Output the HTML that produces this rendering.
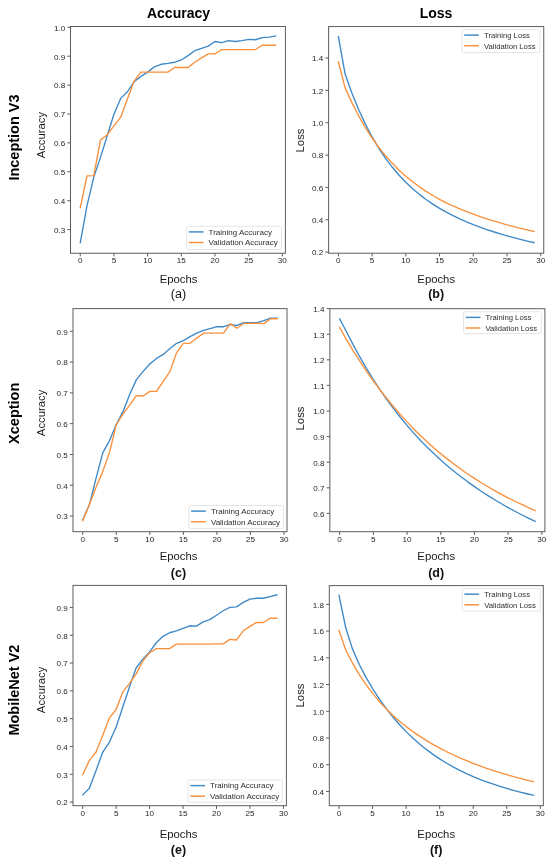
<!DOCTYPE html>
<html><head><meta charset="utf-8"><title>Training curves</title>
<style>
html,body{margin:0;padding:0;background:#fff;}
body{width:550px;height:866px;overflow:hidden;}
svg{display:block;filter:blur(0.3px);}
text{font-family:"Liberation Sans",sans-serif;}
.tk{font-size:8.1px;fill:#262626;}
.lg{font-size:8px;fill:#2e2e2e;}
.lg2{font-size:7.7px;fill:#2e2e2e;}
.xl{font-size:11.3px;fill:#1a1a1a;}
.yl{font-size:11.3px;fill:#1a1a1a;}
.pr{font-size:12.5px;fill:#111;}
.pb{font-size:12.5px;fill:#111;font-weight:bold;}
.ti{font-size:14px;fill:#000;font-weight:bold;}
.rl{font-size:14.5px;fill:#000;font-weight:bold;}
</style></head>
<body>
<svg width="550" height="866" viewBox="0 0 550 866">
<rect width="550" height="866" fill="#fff"/>
<polyline points="80.27,242.6 87.01,205.61 93.74,177.29 100.48,157.35 107.22,135.68 113.95,114.29 120.69,98.39 127.43,91.75 134.17,81.63 140.9,76.43 147.64,72.1 154.38,66.89 161.11,64.29 167.85,63.43 174.59,62.27 181.32,59.96 188.06,55.62 194.8,50.71 201.54,48.4 208.27,46.08 215.01,41.46 221.75,42.62 228.48,40.59 235.22,41.46 241.96,40.59 248.69,39.44 255.43,39.73 262.17,37.7 268.91,37.13 275.64,35.97" fill="none" stroke="#3f88c6" stroke-width="1.35" stroke-linejoin="round" stroke-linecap="square"/>
<polyline points="80.27,207.64 87.01,175.85 93.74,175.56 100.48,140.01 107.22,134.81 113.95,125.85 120.69,117.18 127.43,98.97 134.17,81.05 140.9,72.1 147.64,72.1 154.38,72.1 161.11,72.1 167.85,72.1 174.59,67.47 181.32,67.47 188.06,67.47 194.8,62.27 201.54,57.93 208.27,53.89 215.01,53.89 221.75,49.55 228.48,49.55 235.22,49.55 241.96,49.55 248.69,49.55 255.43,49.55 262.17,45.22 268.91,45.22 275.64,45.22" fill="none" stroke="#f9903c" stroke-width="1.35" stroke-linejoin="round" stroke-linecap="square"/>
<rect x="70.5" y="26.5" width="214.9" height="226.75" fill="none" stroke="#5c5c5c" stroke-width="1"/>
<line x1="67.3" y1="229.6" x2="70.5" y2="229.6" stroke="#5c5c5c" stroke-width="1"/>
<text x="65.2" y="232.9" class="tk" text-anchor="end">0.3</text>
<line x1="67.3" y1="200.7" x2="70.5" y2="200.7" stroke="#5c5c5c" stroke-width="1"/>
<text x="65.2" y="204" class="tk" text-anchor="end">0.4</text>
<line x1="67.3" y1="171.8" x2="70.5" y2="171.8" stroke="#5c5c5c" stroke-width="1"/>
<text x="65.2" y="175.1" class="tk" text-anchor="end">0.5</text>
<line x1="67.3" y1="142.9" x2="70.5" y2="142.9" stroke="#5c5c5c" stroke-width="1"/>
<text x="65.2" y="146.2" class="tk" text-anchor="end">0.6</text>
<line x1="67.3" y1="114" x2="70.5" y2="114" stroke="#5c5c5c" stroke-width="1"/>
<text x="65.2" y="117.3" class="tk" text-anchor="end">0.7</text>
<line x1="67.3" y1="85.1" x2="70.5" y2="85.1" stroke="#5c5c5c" stroke-width="1"/>
<text x="65.2" y="88.4" class="tk" text-anchor="end">0.8</text>
<line x1="67.3" y1="56.2" x2="70.5" y2="56.2" stroke="#5c5c5c" stroke-width="1"/>
<text x="65.2" y="59.5" class="tk" text-anchor="end">0.9</text>
<line x1="67.3" y1="27.3" x2="70.5" y2="27.3" stroke="#5c5c5c" stroke-width="1"/>
<text x="65.2" y="30.6" class="tk" text-anchor="end">1.0</text>
<line x1="80.27" y1="253.25" x2="80.27" y2="256.45" stroke="#5c5c5c" stroke-width="1"/>
<text x="80.27" y="263.35" class="tk" text-anchor="middle">0</text>
<line x1="113.95" y1="253.25" x2="113.95" y2="256.45" stroke="#5c5c5c" stroke-width="1"/>
<text x="113.95" y="263.35" class="tk" text-anchor="middle">5</text>
<line x1="147.64" y1="253.25" x2="147.64" y2="256.45" stroke="#5c5c5c" stroke-width="1"/>
<text x="147.64" y="263.35" class="tk" text-anchor="middle">10</text>
<line x1="181.32" y1="253.25" x2="181.32" y2="256.45" stroke="#5c5c5c" stroke-width="1"/>
<text x="181.32" y="263.35" class="tk" text-anchor="middle">15</text>
<line x1="215.01" y1="253.25" x2="215.01" y2="256.45" stroke="#5c5c5c" stroke-width="1"/>
<text x="215.01" y="263.35" class="tk" text-anchor="middle">20</text>
<line x1="248.69" y1="253.25" x2="248.69" y2="256.45" stroke="#5c5c5c" stroke-width="1"/>
<text x="248.69" y="263.35" class="tk" text-anchor="middle">25</text>
<line x1="282.38" y1="253.25" x2="282.38" y2="256.45" stroke="#5c5c5c" stroke-width="1"/>
<text x="282.38" y="263.35" class="tk" text-anchor="middle">30</text>
<rect x="186.6" y="226.3" width="94.9" height="23.2" rx="1.5" fill="#fff" fill-opacity="0.85" stroke="#e2e2e2" stroke-width="0.9"/>
<line x1="188.8" y1="231.9" x2="203.5" y2="231.9" stroke="#3f88c6" stroke-width="1.45"/>
<text x="208.6" y="234.7" class="lg">Training Accuracy</text>
<line x1="188.8" y1="242.5" x2="203.5" y2="242.5" stroke="#f9903c" stroke-width="1.45"/>
<text x="208.6" y="245.3" class="lg">Validation Accuracy</text>
<text x="178.5" y="282.5" class="xl" text-anchor="middle">Epochs</text>
<text x="178.5" y="298" class="pr" text-anchor="middle">(a)</text>
<text transform="translate(45,135.1) rotate(-90)" class="yl" text-anchor="middle">Accuracy</text>
<polyline points="338.38,36.46 345.12,74.02 351.87,92.91 358.62,109.5 365.36,124.1 372.11,136.95 378.85,148.31 385.6,158.36 392.34,167.29 399.08,175.23 405.83,182.31 412.57,188.65 419.32,194.35 426.06,199.48 432.81,204.13 439.56,208.34 446.3,212.18 453.05,215.69 459.79,218.91 466.53,221.87 473.28,224.62 480.02,227.17 486.77,229.54 493.51,231.76 500.26,233.84 507,235.8 513.75,237.64 520.5,239.39 527.24,241.05 533.99,242.62" fill="none" stroke="#3f88c6" stroke-width="1.35" stroke-linejoin="round" stroke-linecap="square"/>
<polyline points="338.38,61.86 345.12,87.89 351.87,102.64 358.62,115.8 365.36,127.53 372.11,138.01 378.85,147.4 385.6,155.8 392.34,163.35 399.08,170.15 405.83,176.27 412.57,181.81 419.32,186.82 426.06,191.37 432.81,195.52 439.56,199.32 446.3,202.79 453.05,205.99 459.79,208.95 466.53,211.68 473.28,214.23 480.02,216.61 486.77,218.84 493.51,220.94 500.26,222.92 507,224.8 513.75,226.59 520.5,228.3 527.24,229.94 533.99,231.52" fill="none" stroke="#f9903c" stroke-width="1.35" stroke-linejoin="round" stroke-linecap="square"/>
<rect x="328.6" y="26.55" width="215.15" height="226.65" fill="none" stroke="#5c5c5c" stroke-width="1"/>
<line x1="325.4" y1="252.14" x2="328.6" y2="252.14" stroke="#5c5c5c" stroke-width="1"/>
<text x="323.3" y="255.44" class="tk" text-anchor="end">0.2</text>
<line x1="325.4" y1="219.78" x2="328.6" y2="219.78" stroke="#5c5c5c" stroke-width="1"/>
<text x="323.3" y="223.08" class="tk" text-anchor="end">0.4</text>
<line x1="325.4" y1="187.42" x2="328.6" y2="187.42" stroke="#5c5c5c" stroke-width="1"/>
<text x="323.3" y="190.72" class="tk" text-anchor="end">0.6</text>
<line x1="325.4" y1="155.06" x2="328.6" y2="155.06" stroke="#5c5c5c" stroke-width="1"/>
<text x="323.3" y="158.36" class="tk" text-anchor="end">0.8</text>
<line x1="325.4" y1="122.7" x2="328.6" y2="122.7" stroke="#5c5c5c" stroke-width="1"/>
<text x="323.3" y="126" class="tk" text-anchor="end">1.0</text>
<line x1="325.4" y1="90.34" x2="328.6" y2="90.34" stroke="#5c5c5c" stroke-width="1"/>
<text x="323.3" y="93.64" class="tk" text-anchor="end">1.2</text>
<line x1="325.4" y1="57.98" x2="328.6" y2="57.98" stroke="#5c5c5c" stroke-width="1"/>
<text x="323.3" y="61.28" class="tk" text-anchor="end">1.4</text>
<line x1="338.38" y1="253.2" x2="338.38" y2="256.4" stroke="#5c5c5c" stroke-width="1"/>
<text x="338.38" y="263.3" class="tk" text-anchor="middle">0</text>
<line x1="372.11" y1="253.2" x2="372.11" y2="256.4" stroke="#5c5c5c" stroke-width="1"/>
<text x="372.11" y="263.3" class="tk" text-anchor="middle">5</text>
<line x1="405.83" y1="253.2" x2="405.83" y2="256.4" stroke="#5c5c5c" stroke-width="1"/>
<text x="405.83" y="263.3" class="tk" text-anchor="middle">10</text>
<line x1="439.56" y1="253.2" x2="439.56" y2="256.4" stroke="#5c5c5c" stroke-width="1"/>
<text x="439.56" y="263.3" class="tk" text-anchor="middle">15</text>
<line x1="473.28" y1="253.2" x2="473.28" y2="256.4" stroke="#5c5c5c" stroke-width="1"/>
<text x="473.28" y="263.3" class="tk" text-anchor="middle">20</text>
<line x1="507" y1="253.2" x2="507" y2="256.4" stroke="#5c5c5c" stroke-width="1"/>
<text x="507" y="263.3" class="tk" text-anchor="middle">25</text>
<line x1="540.73" y1="253.2" x2="540.73" y2="256.4" stroke="#5c5c5c" stroke-width="1"/>
<text x="540.73" y="263.3" class="tk" text-anchor="middle">30</text>
<rect x="462" y="29.5" width="78" height="23.1" rx="1.5" fill="#fff" fill-opacity="0.85" stroke="#e2e2e2" stroke-width="0.9"/>
<line x1="464.2" y1="35.1" x2="478.9" y2="35.1" stroke="#3f88c6" stroke-width="1.45"/>
<text x="484" y="37.9" class="lg2">Training Loss</text>
<line x1="464.2" y1="45.7" x2="478.9" y2="45.7" stroke="#f9903c" stroke-width="1.45"/>
<text x="484" y="48.5" class="lg2">Validation Loss</text>
<text x="436.2" y="282.5" class="xl" text-anchor="middle">Epochs</text>
<text x="436.2" y="298" class="pb" text-anchor="middle">(b)</text>
<text transform="translate(304.2,140.5) rotate(-90)" class="yl" text-anchor="middle">Loss</text>
<polyline points="82.73,519.69 89.44,504.61 96.15,477.83 102.85,452.59 109.56,440.59 116.27,424.58 122.98,411.66 129.69,394.42 136.39,379.64 143.1,371.33 149.81,363.95 156.52,358.41 163.23,354.41 169.93,348.56 176.64,343.32 183.35,340.55 190.06,336.55 196.77,333.17 203.47,330.4 210.18,328.55 216.89,326.7 223.6,326.7 230.31,324.55 237.01,325.47 243.72,322.7 250.43,322.7 257.14,322.7 263.85,320.55 270.55,318.08 277.26,318.08" fill="none" stroke="#3f88c6" stroke-width="1.35" stroke-linejoin="round" stroke-linecap="square"/>
<polyline points="82.73,520.62 89.44,504.61 96.15,487.07 102.85,471.37 109.56,452.29 116.27,424.58 122.98,414.12 129.69,405.19 136.39,395.65 143.1,395.96 149.81,391.34 156.52,391.34 163.23,381.49 169.93,371.64 176.64,352.56 183.35,343.32 190.06,343.32 196.77,338.09 203.47,333.17 210.18,333.17 216.89,333.17 223.6,333.17 230.31,323.62 237.01,328.24 243.72,323.32 250.43,323.32 257.14,323.32 263.85,323.62 270.55,318.7 277.26,318.7" fill="none" stroke="#f9903c" stroke-width="1.35" stroke-linejoin="round" stroke-linecap="square"/>
<rect x="73" y="308.6" width="214" height="223.1" fill="none" stroke="#5c5c5c" stroke-width="1"/>
<line x1="69.8" y1="516" x2="73" y2="516" stroke="#5c5c5c" stroke-width="1"/>
<text x="67.7" y="519.3" class="tk" text-anchor="end">0.3</text>
<line x1="69.8" y1="485.22" x2="73" y2="485.22" stroke="#5c5c5c" stroke-width="1"/>
<text x="67.7" y="488.52" class="tk" text-anchor="end">0.4</text>
<line x1="69.8" y1="454.44" x2="73" y2="454.44" stroke="#5c5c5c" stroke-width="1"/>
<text x="67.7" y="457.74" class="tk" text-anchor="end">0.5</text>
<line x1="69.8" y1="423.66" x2="73" y2="423.66" stroke="#5c5c5c" stroke-width="1"/>
<text x="67.7" y="426.96" class="tk" text-anchor="end">0.6</text>
<line x1="69.8" y1="392.88" x2="73" y2="392.88" stroke="#5c5c5c" stroke-width="1"/>
<text x="67.7" y="396.18" class="tk" text-anchor="end">0.7</text>
<line x1="69.8" y1="362.1" x2="73" y2="362.1" stroke="#5c5c5c" stroke-width="1"/>
<text x="67.7" y="365.4" class="tk" text-anchor="end">0.8</text>
<line x1="69.8" y1="331.32" x2="73" y2="331.32" stroke="#5c5c5c" stroke-width="1"/>
<text x="67.7" y="334.62" class="tk" text-anchor="end">0.9</text>
<line x1="82.73" y1="531.7" x2="82.73" y2="534.9" stroke="#5c5c5c" stroke-width="1"/>
<text x="82.73" y="541.8" class="tk" text-anchor="middle">0</text>
<line x1="116.27" y1="531.7" x2="116.27" y2="534.9" stroke="#5c5c5c" stroke-width="1"/>
<text x="116.27" y="541.8" class="tk" text-anchor="middle">5</text>
<line x1="149.81" y1="531.7" x2="149.81" y2="534.9" stroke="#5c5c5c" stroke-width="1"/>
<text x="149.81" y="541.8" class="tk" text-anchor="middle">10</text>
<line x1="183.35" y1="531.7" x2="183.35" y2="534.9" stroke="#5c5c5c" stroke-width="1"/>
<text x="183.35" y="541.8" class="tk" text-anchor="middle">15</text>
<line x1="216.89" y1="531.7" x2="216.89" y2="534.9" stroke="#5c5c5c" stroke-width="1"/>
<text x="216.89" y="541.8" class="tk" text-anchor="middle">20</text>
<line x1="250.43" y1="531.7" x2="250.43" y2="534.9" stroke="#5c5c5c" stroke-width="1"/>
<text x="250.43" y="541.8" class="tk" text-anchor="middle">25</text>
<line x1="283.97" y1="531.7" x2="283.97" y2="534.9" stroke="#5c5c5c" stroke-width="1"/>
<text x="283.97" y="541.8" class="tk" text-anchor="middle">30</text>
<rect x="188.9" y="505.5" width="94.5" height="23" rx="1.5" fill="#fff" fill-opacity="0.85" stroke="#e2e2e2" stroke-width="0.9"/>
<line x1="191.1" y1="511.1" x2="205.8" y2="511.1" stroke="#3f88c6" stroke-width="1.45"/>
<text x="210.9" y="513.9" class="lg">Training Accuracy</text>
<line x1="191.1" y1="521.7" x2="205.8" y2="521.7" stroke="#f9903c" stroke-width="1.45"/>
<text x="210.9" y="524.5" class="lg">Validation Accuracy</text>
<text x="178.5" y="560.3" class="xl" text-anchor="middle">Epochs</text>
<text x="178.5" y="576.6" class="pb" text-anchor="middle">(c)</text>
<text transform="translate(45,412.9) rotate(-90)" class="yl" text-anchor="middle">Accuracy</text>
<polyline points="339.62,318.84 346.36,331.49 353.1,344.62 359.84,356.96 366.58,368.58 373.32,379.51 380.07,389.81 386.81,399.51 393.55,408.66 400.29,417.29 407.03,425.44 413.77,433.14 420.51,440.43 427.25,447.32 433.99,453.85 440.74,460.04 447.48,465.91 454.22,471.48 460.96,476.79 467.7,481.83 474.44,486.63 481.18,491.21 487.92,495.58 494.66,499.76 501.4,503.76 508.14,507.58 514.89,511.25 521.63,514.77 528.37,518.15 535.11,521.41" fill="none" stroke="#3f88c6" stroke-width="1.35" stroke-linejoin="round" stroke-linecap="square"/>
<polyline points="339.62,327.59 346.36,339.39 353.1,350.59 359.84,361.21 366.58,371.29 373.32,380.85 380.07,389.93 386.81,398.55 393.55,406.74 400.29,414.51 407.03,421.89 413.77,428.91 420.51,435.58 427.25,441.91 433.99,447.94 440.74,453.67 447.48,459.12 454.22,464.31 460.96,469.25 467.7,473.95 474.44,478.43 481.18,482.7 487.92,486.77 494.66,490.65 501.4,494.35 508.14,497.88 514.89,501.26 521.63,504.48 528.37,507.55 535.11,510.49" fill="none" stroke="#f9903c" stroke-width="1.35" stroke-linejoin="round" stroke-linecap="square"/>
<rect x="329.85" y="308.7" width="215.05" height="223" fill="none" stroke="#5c5c5c" stroke-width="1"/>
<line x1="326.65" y1="513.4" x2="329.85" y2="513.4" stroke="#5c5c5c" stroke-width="1"/>
<text x="324.55" y="516.7" class="tk" text-anchor="end">0.6</text>
<line x1="326.65" y1="487.8" x2="329.85" y2="487.8" stroke="#5c5c5c" stroke-width="1"/>
<text x="324.55" y="491.1" class="tk" text-anchor="end">0.7</text>
<line x1="326.65" y1="462.2" x2="329.85" y2="462.2" stroke="#5c5c5c" stroke-width="1"/>
<text x="324.55" y="465.5" class="tk" text-anchor="end">0.8</text>
<line x1="326.65" y1="436.6" x2="329.85" y2="436.6" stroke="#5c5c5c" stroke-width="1"/>
<text x="324.55" y="439.9" class="tk" text-anchor="end">0.9</text>
<line x1="326.65" y1="411" x2="329.85" y2="411" stroke="#5c5c5c" stroke-width="1"/>
<text x="324.55" y="414.3" class="tk" text-anchor="end">1.0</text>
<line x1="326.65" y1="385.4" x2="329.85" y2="385.4" stroke="#5c5c5c" stroke-width="1"/>
<text x="324.55" y="388.7" class="tk" text-anchor="end">1.1</text>
<line x1="326.65" y1="359.8" x2="329.85" y2="359.8" stroke="#5c5c5c" stroke-width="1"/>
<text x="324.55" y="363.1" class="tk" text-anchor="end">1.2</text>
<line x1="326.65" y1="334.2" x2="329.85" y2="334.2" stroke="#5c5c5c" stroke-width="1"/>
<text x="324.55" y="337.5" class="tk" text-anchor="end">1.3</text>
<line x1="326.65" y1="308.6" x2="329.85" y2="308.6" stroke="#5c5c5c" stroke-width="1"/>
<text x="324.55" y="311.9" class="tk" text-anchor="end">1.4</text>
<line x1="339.62" y1="531.7" x2="339.62" y2="534.9" stroke="#5c5c5c" stroke-width="1"/>
<text x="339.62" y="541.8" class="tk" text-anchor="middle">0</text>
<line x1="373.32" y1="531.7" x2="373.32" y2="534.9" stroke="#5c5c5c" stroke-width="1"/>
<text x="373.32" y="541.8" class="tk" text-anchor="middle">5</text>
<line x1="407.03" y1="531.7" x2="407.03" y2="534.9" stroke="#5c5c5c" stroke-width="1"/>
<text x="407.03" y="541.8" class="tk" text-anchor="middle">10</text>
<line x1="440.74" y1="531.7" x2="440.74" y2="534.9" stroke="#5c5c5c" stroke-width="1"/>
<text x="440.74" y="541.8" class="tk" text-anchor="middle">15</text>
<line x1="474.44" y1="531.7" x2="474.44" y2="534.9" stroke="#5c5c5c" stroke-width="1"/>
<text x="474.44" y="541.8" class="tk" text-anchor="middle">20</text>
<line x1="508.14" y1="531.7" x2="508.14" y2="534.9" stroke="#5c5c5c" stroke-width="1"/>
<text x="508.14" y="541.8" class="tk" text-anchor="middle">25</text>
<line x1="541.85" y1="531.7" x2="541.85" y2="534.9" stroke="#5c5c5c" stroke-width="1"/>
<text x="541.85" y="541.8" class="tk" text-anchor="middle">30</text>
<rect x="463.5" y="311.8" width="77.8" height="21.8" rx="1.5" fill="#fff" fill-opacity="0.85" stroke="#e2e2e2" stroke-width="0.9"/>
<line x1="465.7" y1="317.4" x2="480.4" y2="317.4" stroke="#3f88c6" stroke-width="1.45"/>
<text x="485.5" y="320.2" class="lg2">Training Loss</text>
<line x1="465.7" y1="328" x2="480.4" y2="328" stroke="#f9903c" stroke-width="1.45"/>
<text x="485.5" y="330.8" class="lg2">Validation Loss</text>
<text x="436.2" y="560.3" class="xl" text-anchor="middle">Epochs</text>
<text x="436.2" y="576.6" class="pb" text-anchor="middle">(d)</text>
<text transform="translate(304.2,418.5) rotate(-90)" class="yl" text-anchor="middle">Loss</text>
<polyline points="82.7,794.87 89.39,788.2 96.08,770.4 102.77,752.04 109.46,742.03 116.15,727.01 122.84,706.99 129.53,686.69 136.22,667.78 142.91,659.16 149.6,651.93 156.29,642.75 162.98,636.35 169.67,632.74 176.36,630.79 183.05,628.29 189.74,625.78 196.43,626.06 203.12,621.89 209.81,619.67 216.5,615.22 223.19,610.77 229.88,607.43 236.57,606.87 243.26,602.42 249.95,599.09 256.64,598.25 263.33,598.25 270.02,596.58 276.71,594.92" fill="none" stroke="#3f88c6" stroke-width="1.35" stroke-linejoin="round" stroke-linecap="square"/>
<polyline points="82.7,774.57 89.39,760.38 96.08,752.04 102.77,735.36 109.46,717.84 116.15,709.49 122.84,691.69 129.53,683.35 136.22,673.9 142.91,660.83 149.6,652.76 156.29,648.59 162.98,648.59 169.67,648.59 176.36,644.14 183.05,644.14 189.74,644.14 196.43,644.14 203.12,644.14 209.81,644.14 216.5,643.86 223.19,643.86 229.88,639.41 236.57,639.97 243.26,630.79 249.95,626.34 256.64,622.45 263.33,622.45 270.02,618.28 276.71,618.28" fill="none" stroke="#f9903c" stroke-width="1.35" stroke-linejoin="round" stroke-linecap="square"/>
<rect x="73" y="585.4" width="213.4" height="220.3" fill="none" stroke="#5c5c5c" stroke-width="1"/>
<line x1="69.8" y1="802.1" x2="73" y2="802.1" stroke="#5c5c5c" stroke-width="1"/>
<text x="67.7" y="805.4" class="tk" text-anchor="end">0.2</text>
<line x1="69.8" y1="774.29" x2="73" y2="774.29" stroke="#5c5c5c" stroke-width="1"/>
<text x="67.7" y="777.59" class="tk" text-anchor="end">0.3</text>
<line x1="69.8" y1="746.48" x2="73" y2="746.48" stroke="#5c5c5c" stroke-width="1"/>
<text x="67.7" y="749.78" class="tk" text-anchor="end">0.4</text>
<line x1="69.8" y1="718.67" x2="73" y2="718.67" stroke="#5c5c5c" stroke-width="1"/>
<text x="67.7" y="721.97" class="tk" text-anchor="end">0.5</text>
<line x1="69.8" y1="690.86" x2="73" y2="690.86" stroke="#5c5c5c" stroke-width="1"/>
<text x="67.7" y="694.16" class="tk" text-anchor="end">0.6</text>
<line x1="69.8" y1="663.05" x2="73" y2="663.05" stroke="#5c5c5c" stroke-width="1"/>
<text x="67.7" y="666.35" class="tk" text-anchor="end">0.7</text>
<line x1="69.8" y1="635.24" x2="73" y2="635.24" stroke="#5c5c5c" stroke-width="1"/>
<text x="67.7" y="638.54" class="tk" text-anchor="end">0.8</text>
<line x1="69.8" y1="607.43" x2="73" y2="607.43" stroke="#5c5c5c" stroke-width="1"/>
<text x="67.7" y="610.73" class="tk" text-anchor="end">0.9</text>
<line x1="82.7" y1="805.7" x2="82.7" y2="808.9" stroke="#5c5c5c" stroke-width="1"/>
<text x="82.7" y="815.8" class="tk" text-anchor="middle">0</text>
<line x1="116.15" y1="805.7" x2="116.15" y2="808.9" stroke="#5c5c5c" stroke-width="1"/>
<text x="116.15" y="815.8" class="tk" text-anchor="middle">5</text>
<line x1="149.6" y1="805.7" x2="149.6" y2="808.9" stroke="#5c5c5c" stroke-width="1"/>
<text x="149.6" y="815.8" class="tk" text-anchor="middle">10</text>
<line x1="183.05" y1="805.7" x2="183.05" y2="808.9" stroke="#5c5c5c" stroke-width="1"/>
<text x="183.05" y="815.8" class="tk" text-anchor="middle">15</text>
<line x1="216.5" y1="805.7" x2="216.5" y2="808.9" stroke="#5c5c5c" stroke-width="1"/>
<text x="216.5" y="815.8" class="tk" text-anchor="middle">20</text>
<line x1="249.95" y1="805.7" x2="249.95" y2="808.9" stroke="#5c5c5c" stroke-width="1"/>
<text x="249.95" y="815.8" class="tk" text-anchor="middle">25</text>
<line x1="283.4" y1="805.7" x2="283.4" y2="808.9" stroke="#5c5c5c" stroke-width="1"/>
<text x="283.4" y="815.8" class="tk" text-anchor="middle">30</text>
<rect x="188.1" y="780" width="94.3" height="22.3" rx="1.5" fill="#fff" fill-opacity="0.85" stroke="#e2e2e2" stroke-width="0.9"/>
<line x1="190.3" y1="785.6" x2="205" y2="785.6" stroke="#3f88c6" stroke-width="1.45"/>
<text x="210.1" y="788.4" class="lg">Training Accuracy</text>
<line x1="190.3" y1="796.2" x2="205" y2="796.2" stroke="#f9903c" stroke-width="1.45"/>
<text x="210.1" y="799" class="lg">Validation Accuracy</text>
<text x="178.5" y="837.5" class="xl" text-anchor="middle">Epochs</text>
<text x="178.5" y="854.1" class="pb" text-anchor="middle">(e)</text>
<text transform="translate(45,689.9) rotate(-90)" class="yl" text-anchor="middle">Accuracy</text>
<polyline points="339.03,595.32 345.74,627.76 352.45,648.87 359.15,664.2 365.86,677.1 372.57,688.53 379.28,698.85 385.99,708.23 392.69,716.76 399.4,724.54 406.11,731.63 412.82,738.1 419.53,744 426.23,749.41 432.94,754.35 439.65,758.88 446.36,763.03 453.07,766.84 459.77,770.35 466.48,773.57 473.19,776.55 479.9,779.3 486.61,781.84 493.31,784.19 500.02,786.38 506.73,788.41 513.44,790.31 520.15,792.08 526.85,793.74 533.56,795.29" fill="none" stroke="#3f88c6" stroke-width="1.35" stroke-linejoin="round" stroke-linecap="square"/>
<polyline points="339.03,630.45 345.74,649.96 352.45,662.9 359.15,674.29 365.86,684.39 372.57,693.38 379.28,701.42 385.99,708.66 392.69,715.2 399.4,721.15 406.11,726.59 412.82,731.57 419.53,736.17 426.23,740.43 432.94,744.38 439.65,748.07 446.36,751.52 453.07,754.75 459.77,757.79 466.48,760.65 473.19,763.34 479.9,765.89 486.61,768.29 493.31,770.55 500.02,772.69 506.73,774.71 513.44,776.61 520.15,778.4 526.85,780.09 533.56,781.66" fill="none" stroke="#f9903c" stroke-width="1.35" stroke-linejoin="round" stroke-linecap="square"/>
<rect x="329.3" y="585.6" width="214" height="220.1" fill="none" stroke="#5c5c5c" stroke-width="1"/>
<line x1="326.1" y1="791.44" x2="329.3" y2="791.44" stroke="#5c5c5c" stroke-width="1"/>
<text x="324" y="794.74" class="tk" text-anchor="end">0.4</text>
<line x1="326.1" y1="764.72" x2="329.3" y2="764.72" stroke="#5c5c5c" stroke-width="1"/>
<text x="324" y="768.02" class="tk" text-anchor="end">0.6</text>
<line x1="326.1" y1="738" x2="329.3" y2="738" stroke="#5c5c5c" stroke-width="1"/>
<text x="324" y="741.3" class="tk" text-anchor="end">0.8</text>
<line x1="326.1" y1="711.28" x2="329.3" y2="711.28" stroke="#5c5c5c" stroke-width="1"/>
<text x="324" y="714.58" class="tk" text-anchor="end">1.0</text>
<line x1="326.1" y1="684.56" x2="329.3" y2="684.56" stroke="#5c5c5c" stroke-width="1"/>
<text x="324" y="687.86" class="tk" text-anchor="end">1.2</text>
<line x1="326.1" y1="657.84" x2="329.3" y2="657.84" stroke="#5c5c5c" stroke-width="1"/>
<text x="324" y="661.14" class="tk" text-anchor="end">1.4</text>
<line x1="326.1" y1="631.12" x2="329.3" y2="631.12" stroke="#5c5c5c" stroke-width="1"/>
<text x="324" y="634.42" class="tk" text-anchor="end">1.6</text>
<line x1="326.1" y1="604.4" x2="329.3" y2="604.4" stroke="#5c5c5c" stroke-width="1"/>
<text x="324" y="607.7" class="tk" text-anchor="end">1.8</text>
<line x1="339.03" y1="805.7" x2="339.03" y2="808.9" stroke="#5c5c5c" stroke-width="1"/>
<text x="339.03" y="815.8" class="tk" text-anchor="middle">0</text>
<line x1="372.57" y1="805.7" x2="372.57" y2="808.9" stroke="#5c5c5c" stroke-width="1"/>
<text x="372.57" y="815.8" class="tk" text-anchor="middle">5</text>
<line x1="406.11" y1="805.7" x2="406.11" y2="808.9" stroke="#5c5c5c" stroke-width="1"/>
<text x="406.11" y="815.8" class="tk" text-anchor="middle">10</text>
<line x1="439.65" y1="805.7" x2="439.65" y2="808.9" stroke="#5c5c5c" stroke-width="1"/>
<text x="439.65" y="815.8" class="tk" text-anchor="middle">15</text>
<line x1="473.19" y1="805.7" x2="473.19" y2="808.9" stroke="#5c5c5c" stroke-width="1"/>
<text x="473.19" y="815.8" class="tk" text-anchor="middle">20</text>
<line x1="506.73" y1="805.7" x2="506.73" y2="808.9" stroke="#5c5c5c" stroke-width="1"/>
<text x="506.73" y="815.8" class="tk" text-anchor="middle">25</text>
<line x1="540.27" y1="805.7" x2="540.27" y2="808.9" stroke="#5c5c5c" stroke-width="1"/>
<text x="540.27" y="815.8" class="tk" text-anchor="middle">30</text>
<rect x="462.2" y="588.6" width="78.2" height="22.4" rx="1.5" fill="#fff" fill-opacity="0.85" stroke="#e2e2e2" stroke-width="0.9"/>
<line x1="464.4" y1="594.2" x2="479.1" y2="594.2" stroke="#3f88c6" stroke-width="1.45"/>
<text x="484.2" y="597" class="lg2">Training Loss</text>
<line x1="464.4" y1="604.8" x2="479.1" y2="604.8" stroke="#f9903c" stroke-width="1.45"/>
<text x="484.2" y="607.6" class="lg2">Validation Loss</text>
<text x="436.2" y="837.5" class="xl" text-anchor="middle">Epochs</text>
<text x="436.2" y="854.1" class="pb" text-anchor="middle">(f)</text>
<text transform="translate(304.2,695.5) rotate(-90)" class="yl" text-anchor="middle">Loss</text>
<text x="178.5" y="18.2" class="ti" text-anchor="middle">Accuracy</text>
<text x="436" y="18.2" class="ti" text-anchor="middle">Loss</text>
<text transform="translate(19.3,137.5) rotate(-90)" class="rl" text-anchor="middle">Inception V3</text>
<text transform="translate(19.3,413.3) rotate(-90)" class="rl" text-anchor="middle">Xception</text>
<text transform="translate(19.3,690.1) rotate(-90)" class="rl" text-anchor="middle">MobileNet V2</text>
</svg>
</body></html>
